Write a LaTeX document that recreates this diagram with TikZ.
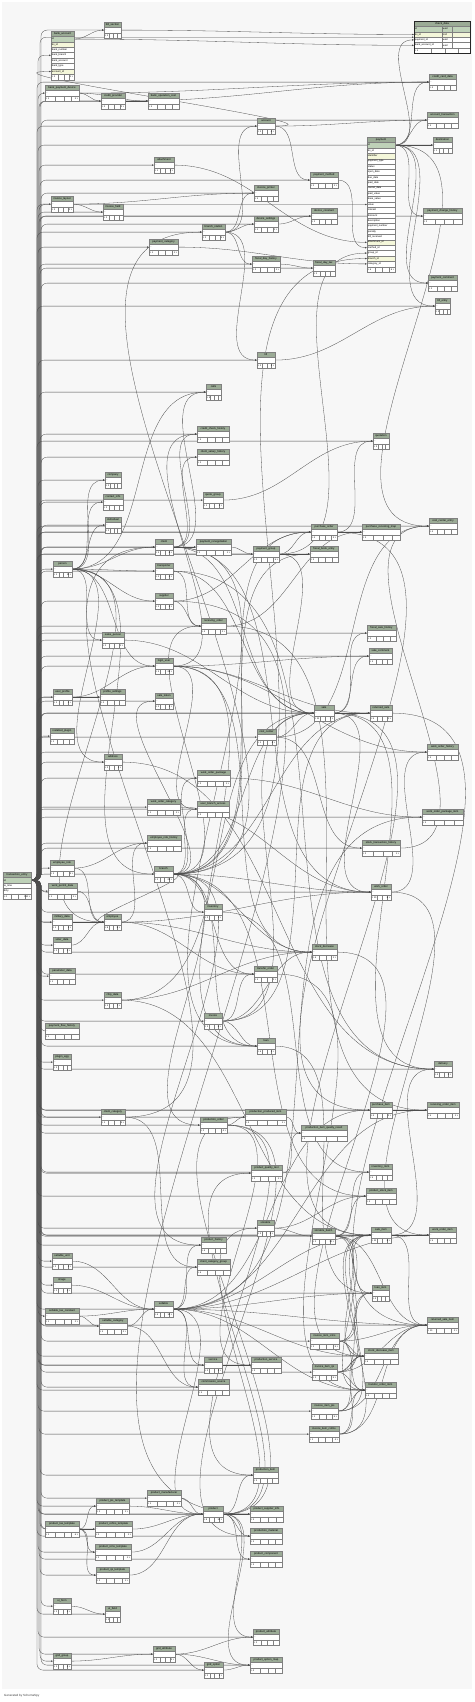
\documentclass[tikz,border=0pt]{standalone}
\usepackage{fontspec}
\newfontfamily\tf{Liberation Sans}
\usetikzlibrary{arrows.meta,calc}
\definecolor{hdr}{HTML}{9BAB96}
\definecolor{pk}{HTML}{BED1B8}
\definecolor{ix}{HTML}{F4F7DA}
\definecolor{panel}{HTML}{F7F7F7}
\pgfdeclarelayer{bg}\pgfdeclarelayer{edges}\pgfsetlayers{bg,edges,main}
\newcount\bcnt
\tikzset{
 tline/.style={draw=black!50,line width=0.2pt},
 ttl/.style={font={\tf\fontsize{2.7pt}{3.1pt}\selectfont},inner sep=0pt,text=black},
 rowtxt/.style={font={\tf\fontsize{2.5pt}{3pt}\selectfont},inner sep=0pt},
 ft/.style={font={\tf\fontsize{2.3pt}{3pt}\selectfont},inner sep=0pt},
 fk/.style={draw=black!70,line width=0.3pt,-{Latex[length=1.8pt,width=1.6pt]}},
 anchorbox/.style={anchor=north west,inner sep=0pt,outer sep=0pt},
}
\newcommand{\tebundle}[1]{%
 \global\advance\bcnt by 1
 \pgfmathsetmacro\bdx{6+mod(\the\bcnt,5)}%
 \begin{pgfonlayer}{edges}
 \draw[fk,rounded corners=6pt] (transaction_entry-e1) -- ++(\bdx,0) |- (#1.west);
 \end{pgfonlayer}}
\newcommand{\mktable}[6]{%
 \node[anchorbox,minimum width=#4pt,minimum height=16.2pt] (#1) at (#2,#3) {};
 \draw[tline,fill=hdr] (#2,#3) rectangle ++(#4,5.4);
 \node[ttl] (#1-t) at (#2+#4/2,#3+2.8) {\detokenize{#1}};
 \draw[tline,fill=white] (#2,#3+5.4) rectangle ++(#4,5.4);
 \node[rowtxt,anchor=west,text=black!70] (#1-d) at (#2+0.7,#3+8.0) {...};
 \draw[tline,fill=white] (#2,#3+10.8) rectangle ++(#4,5.4);
 \draw[tline] (#2+0.3*#4,#3+10.8) -- ++(0,5.4) (#2+0.55*#4,#3+10.8) -- ++(0,5.4) (#2+0.78*#4,#3+10.8) -- ++(0,5.4);
 \node[ft,anchor=west] (#1-l) at (#2+0.6,#3+13.5) {#5};
 \node[ft,anchor=east] (#1-r) at (#2+#4-0.6,#3+13.5) {#6};
 \tebundle{#1}}
\newcommand{\mkbig}[8]{%
 \node[anchorbox,minimum width=#4pt,minimum height={(#5+2)*5.4pt}] (#1) at (#2,#3) {};
 \draw[tline,fill=hdr] (#2,#3) rectangle ++(#4,5.4);
 \node[ttl] (#1-t) at (#2+#4/2,#3+2.8) {\detokenize{#1}};
 \foreach \rt/\rc [count=\i] in {#6} {
   \draw[tline,fill=\rc] (#2,#3+5.4*\i) rectangle ++(#4,5.4);
   \node[rowtxt,anchor=west] (#1-n\i) at (#2+0.7,#3+5.4*\i+2.7) {\rt};
   \coordinate (#1-w\i) at (#2,#3+5.4*\i+2.7);
   \coordinate (#1-e\i) at (#2+#4,#3+5.4*\i+2.7);
 }
 \pgfmathsetmacro\fy{#3+5.4*(#5+1)}
 \draw[tline,fill=white] (#2,\fy) rectangle ++(#4,5.4);
 \draw[tline] (#2+0.3*#4,\fy) -- ++(0,5.4) (#2+0.55*#4,\fy) -- ++(0,5.4) (#2+0.78*#4,\fy) -- ++(0,5.4);
 \node[ft,anchor=west] (#1-l) at (#2+0.6,\fy+2.7) {#7};
 \node[ft,anchor=east] (#1-r) at (#2+#4-0.6,\fy+2.7) {#8};}
\begin{document}
\begin{tikzpicture}[x=1pt,y=-1pt]
\useasboundingbox (0,0) rectangle (474,1702);
\begin{pgfonlayer}{bg}
\fill[white] (0,0) rectangle (474,1702);
\fill[panel] (2,2) rectangle (472,1689);
\end{pgfonlayer}
\node[anchor=west,font={\tf\fontsize{3pt}{3.5pt}\selectfont},text=black!75,inner sep=0pt] (credit) at (4,1696) {Generated by SchemaSpy};
% hub
\mkbig{transaction_entry}{3}{872}{28}{3}{id/pk,te\_time/white,dirty/white}{< 0}{130 >}
% big tables
\mkbig{bank_account}{51}{31}{23}{7}{id/pk,bs\_id/ix,bank\_number/white,bank\_branch/white,bank\_account/white,bank\_type/white,account\_id/ix}{< 2}{1 >}
\tebundle{bank_account}
\mkbig{payment}{367}{137}{28}{23}{id/pk,bs\_id/white,identifier/ix,payment\_type/white,status/white,open\_date/white,due\_date/white,paid\_date/white,cancel\_date/white,paid\_value/white,base\_value/white,value/white,interest/white,discount/white,description/white,payment\_number/white,penalty/white,bill\_received/white,attachment\_id/ix,method\_id/white,group\_id/white,branch\_id/ix,category\_id/white}{< 6}{8 >}
\tebundle{payment}
\mkbig{check_data}{414}{21}{56}{4}{id/pk,bs\_id/ix,payment\_id/white,bank\_account\_id/white}{< 3}{}
\tebundle{check_data}
\draw[tline] (442,26.4) -- (442,48.6) (452,26.4) -- (452,48.6);
\node[rowtxt,anchor=west] (cd-t1) at (442.7,29.1) {uuid};
\node[rowtxt,anchor=west] (cd-t2) at (442.7,34.5) {int4};
\node[rowtxt,anchor=west] (cd-t3) at (442.7,39.9) {uuid};
\node[rowtxt,anchor=west] (cd-t4) at (442.7,45.3) {uuid};
\draw[line width=0.9pt,black!85] (414,21) rectangle (470,53.4);
% tables
\mktable{bill_section}{104}{22}{17}{< 1}{}
\mktable{credit_card_data}{429}{74}{27}{< 4}{}
\mktable{bank_payment_device}{45}{85}{34}{< 1}{3 >}
\mktable{credit_provider}{101}{93}{24}{< 2}{2 >}
\mktable{bank_operation_cost}{148}{93}{31}{< 3}{}
\mktable{account_transaction}{427}{112}{31}{< 3}{}
\mktable{account}{257}{118}{18}{< 2}{4 >}
\mktable{destination}{433}{137}{19}{< 1}{}
\mktable{attachment}{154}{157}{20}{< 1}{1 >}
\mktable{payment_method}{310}{172}{28}{< 2}{1 >}
\mktable{invoice_printer}{254}{185}{24}{< 3}{}
\mktable{invoice_layout}{51}{196}{22}{< 1}{2 >}
\mktable{invoice_field}{103}{204}{20}{< 2}{}
\mktable{device_constant}{311}{208}{26}{< 2}{}
\mktable{payment_change_history}{423}{208}{39}{< 2}{}
\mktable{device_settings}{254}{216}{24}{< 2}{1 >}
\mktable{branch_station}{202}{224}{23}{< 2}{5 >}
\mktable{payment_category}{149}{239}{29}{< 1}{1 >}
\mktable{fiscal_day_history}{252}{256}{28}{< 2}{1 >}
\mktable{fiscal_day_tax}{313}{260}{22}{< 2}{}
\mktable{payment_comment}{428}{275}{29}{< 2}{}
\mktable{till_entry}{435}{298}{15}{< 3}{}
\mktable{till}{257}{352}{18}{< 2}{2 >}
\mktable{calls}{206}{384}{15}{< 3}{}
\mktable{credit_check_history}{197}{426}{32}{< 3}{}
\mktable{client_salary_history}{197}{449}{32}{< 2}{}
\mktable{quotation}{373}{433}{16}{< 3}{}
\mktable{company}{105}{472}{16}{< 2}{}
\mktable{quote_group}{203}{492}{20}{< 1}{1 >}
\mktable{contact_info}{103}{494}{20}{< 2}{}
\mktable{individual}{105}{517}{16}{< 2}{}
\mktable{cost_center_entry}{429}{518}{28}{< 4}{}
\mktable{purchase_order}{311}{524}{26}{< 4}{3 >}
\mktable{purchase_receiving_map}{362}{524}{38}{< 3}{}
\mktable{client}{155}{539}{18}{< 3}{8 >}
\mktable{payment_renegotiation}{196}{539}{35}{< 2}{1 >}
\mktable{payment_group}{253}{546}{26}{< 2}{5 >}
\mktable{fiscal_book_entry}{310}{546}{28}{< 3}{}
\mktable{person}{53}{561}{19}{< 1}{11 >}
\mktable{transporter}{155}{563}{18}{< 2}{3 >}
\mktable{supplier}{155}{593}{18}{< 2}{3 >}
\mktable{receiving_order}{201}{618}{25}{< 4}{2 >}
\mktable{fiscal_sale_history}{367}{625}{29}{< 2}{}
\mktable{sales_person}{102}{632}{22}{< 2}{1 >}
\mktable{sale_comment}{369}{648}{23}{< 3}{}
\mktable{login_user}{155}{658}{18}{< 3}{28 >}
\mktable{user_profile}{53}{689}{19}{< 1}{2 >}
\mktable{profile_settings}{100}{689}{25}{< 2}{}
\mktable{sale_token}{155}{693}{18}{< 2}{1 >}
\mktable{sale}{314}{705}{20}{< 11}{7 >}
\mktable{returned_sale}{370}{705}{22}{< 5}{1 >}
\mktable{installed_plugin}{50}{728}{24}{< 1}{}
\mktable{cost_center}{257}{729}{19}{< 1}{4 >}
\mktable{work_order_history}{427}{744}{31}{< 3}{}
\mktable{address}{104}{754}{18}{< 2}{1 >}
\mktable{work_order_package}{197}{770}{33}{< 2}{1 >}
\mktable{work_order_category}{147}{799}{33}{< 1}{1 >}
\mktable{user_branch_access}{197}{801}{32}{< 3}{}
\mktable{work_order_package_item}{422}{809}{41}{< 3}{}
\mktable{employee_role_history}{147}{835}{34}{< 3}{}
\mktable{stock_transaction_history}{362}{840}{38}{< 2}{1 >}
\mktable{employee_role}{50}{860}{24}{< 1}{3 >}
\mktable{branch}{154}{866}{19}{< 2}{29 >}
\mktable{work_permit_data}{48}{883}{29}{< 1}{1 >}
\mktable{work_order}{371}{884}{20}{< 10}{8 >}
\mktable{inventory}{204}{904}{18}{< 2}{1 >}
\mktable{military_data}{52}{914}{20}{< 1}{1 >}
\mktable{employee}{104}{914}{17}{< 8}{5 >}
\mktable{voter_data}{53}{937}{18}{< 1}{1 >}
\mktable{stock_decrease}{312}{944}{25}{< 6}{1 >}
\mktable{transfer_order}{254}{966}{23}{< 3}{1 >}
\mktable{parameter_data}{49}{968}{26}{< 1}{}
\mktable{cfop_data}{104}{992}{17}{< 1}{7 >}
\mktable{invoice}{204}{1013}{18}{< 1}{5 >}
\mktable{payment_flow_history}{45}{1023}{34}{< 1}{}
\mktable{loan}{257}{1038}{18}{< 6}{1 >}
\mktable{plugin_egg}{53}{1054}{18}{< 1}{}
\mktable{delivery}{434}{1061}{18}{< 4}{2 >}
\mktable{purchase_item}{370}{1102}{22}{< 4}{2 >}
\mktable{receiving_order_item}{427}{1102}{32}{< 5}{1 >}
\mktable{client_category}{101}{1109}{24}{< 1}{4 >}
\mktable{production_produced_item}{245}{1109}{41}{< 4}{1 >}
\mktable{production_order}{200}{1117}{27}{< 2}{4 >}
\mktable{production_item_quality_result}{301}{1125}{46}{< 3}{}
\mktable{product_quality_test}{251}{1165}{31}{< 2}{1 >}
\mktable{inventory_item}{369}{1164}{23}{< 5}{}
\mktable{product_stock_item}{366}{1188}{30}{< 4}{}
\mktable{storable}{257}{1220}{17}{< 2}{3 >}
\mktable{storable_batch}{312}{1228}{23}{< 2}{10 >}
\mktable{sale_item}{371}{1227}{20}{< 11}{8 >}
\mktable{work_order_item}{429}{1227}{27}{< 5}{}
\mktable{product_history}{201}{1237}{25}{< 6}{}
\mktable{sellable_unit}{52}{1253}{20}{< 1}{1 >}
\mktable{client_category_group}{197}{1259}{33}{< 6}{}
\mktable{image}{53}{1277}{18}{< 1}{1 >}
\mktable{loan_item}{372}{1285}{17}{< 4}{}
\mktable{sellable}{154}{1301}{19}{< 6}{14 >}
\mktable{sellable_tax_constant}{45}{1308}{34}{< 1}{2 >}
\mktable{returned_sale_item}{427}{1317}{31}{< 10}{1 >}
\mktable{sellable_category}{99}{1318}{28}{< 3}{2 >}
\mktable{invoice_item_icms}{310}{1333}{29}{< 1}{5 >}
\mktable{stock_decrease_item}{364}{1348}{34}{< 6}{}
\mktable{service}{204}{1357}{18}{< 2}{1 >}
\mktable{production_service}{251}{1357}{30}{< 3}{}
\mktable{invoice_item_ipi}{312}{1364}{25}{< 1}{5 >}
\mktable{commission_source}{198}{1379}{31}{< 3}{}
\mktable{transfer_order_item}{365}{1382}{31}{< 4}{}
\mktable{invoice_item_pis}{311}{1403}{27}{< 1}{5 >}
\mktable{invoice_item_cofins}{309}{1426}{30}{< 1}{4 >}
\mktable{production_item}{253}{1467}{25}{< 3}{}
\mktable{product_manufacturer}{147}{1490}{34}{< 1}{1 >}
\mktable{product_pis_template}{96}{1498}{33}{< 2}{1 >}
\mktable{product}{203}{1506}{20}{< 8}{12 >}
\mktable{product_supplier_info}{250}{1506}{33}{< 3}{}
\mktable{product_tax_template}{45}{1521}{34}{< 1}{6 >}
\mktable{product_cofins_template}{95}{1521}{37}{< 2}{1 >}
\mktable{production_material}{250}{1528}{32}{< 3}{}
\mktable{product_icms_template}{95}{1544}{36}{< 2}{1 >}
\mktable{product_component}{250}{1551}{32}{< 3}{}
\mktable{product_ipi_template}{96}{1567}{33}{< 2}{1 >}
\mktable{ui_form}{53}{1598}{18}{< 1}{1 >}
\mktable{ui_field}{105}{1606}{15}{< 2}{}
\mktable{product_attribute}{253}{1629}{26}{< 2}{}
\mktable{grid_attribute}{153}{1646}{22}{< 2}{3 >}
\mktable{grid_group}{53}{1653}{18}{< 1}{1 >}
\mktable{product_option_map}{250}{1657}{32}{< 4}{}
\mktable{grid_option}{204}{1662}{19}{< 2}{1 >}
% foreign keys
\begin{pgfonlayer}{edges}
\draw[fk] (attachment.east) to[out=0,in=180] (payment-w19);
\draw[fk] (payment_method.east) to[out=0,in=180] (payment-w20);
\draw[fk] (payment_group.east) to[out=0,in=180] (payment-w21);
\draw[fk] (branch.east) to[out=0,in=180] (payment-w22);
\draw[fk] (payment_category.east) to[out=0,in=180] (payment-w23);
\draw[fk] (payment-e1) to[out=0,in=180] (check_data-w3);
\draw[fk] (bank_account-e1) to[out=0,in=180] (check_data-w4);
\draw[fk] (bill_section.east) to[out=0,in=180] (check_data-w2);
\draw[fk] (bank_account-e1) to[out=0,in=180] (bill_section.west);
\draw[fk] (account.east) to[out=0,in=180] (bank_account-w7);
\foreach \c in {destination,credit_card_data,account_transaction,payment_change_history,payment_comment,till_entry,cost_center_entry}
  \draw[fk] (payment-e1) to[out=0,in=180] (\c.west);
\foreach \a/\b in {
 bank_payment_device/credit_provider, bank_payment_device/bank_operation_cost, credit_provider/bank_operation_cost,
 bank_payment_device/credit_card_data, credit_provider/credit_card_data, account/account_transaction,
 account/payment_method, branch_station/account, invoice_layout/invoice_field, invoice_layout/invoice_printer,
 branch_station/invoice_printer, branch_station/device_settings, device_settings/device_constant,
 branch_station/fiscal_day_history, fiscal_day_history/fiscal_day_tax, branch_station/till, till/till_entry,
 branch/branch_station, person/calls, client/calls, person/company, person/contact_info, person/individual,
 person/client, person/transporter, person/supplier, person/sales_person, person/login_user, person/branch,
 person/employee, person/address, client/credit_check_history, client/client_salary_history,
 login_user/credit_check_history, client/payment_renegotiation, payment_renegotiation/payment_group,
 quote_group/quotation, purchase_order/quotation, purchase_order/purchase_receiving_map,
 receiving_order/purchase_receiving_map, payment_group/purchase_order, supplier/purchase_order,
 branch/purchase_order, cost_center/cost_center_entry, stock_transaction_history/cost_center_entry,
 payment_group/fiscal_book_entry, branch/fiscal_book_entry, supplier/receiving_order, transporter/receiving_order,
 branch/receiving_order, sale/fiscal_sale_history, sale/sale_comment, login_user/sale_comment,
 user_profile/profile_settings, user_profile/login_user, branch/sale_token, client/sale, branch/sale,
 sales_person/sale, cost_center/sale, payment_group/sale, transporter/sale, cfop_data/sale, invoice/sale,
 sale/returned_sale, branch/returned_sale, login_user/returned_sale, invoice/returned_sale,
 cost_center/stock_transaction_history, work_order/work_order_history, login_user/work_order_history,
 work_order_package/work_order_package_item, sellable/work_order_package_item, branch/work_order_package,
 login_user/user_branch_access, branch/user_branch_access, employee_role/employee_role_history,
 employee/employee_role_history, employee_role/employee, work_permit_data/employee, military_data/employee,
 voter_data/employee, branch/employee, work_order_category/work_order, client/work_order, branch/work_order,
 sale/work_order, employee/work_order, branch/inventory, branch/stock_decrease, employee/stock_decrease,
 cfop_data/stock_decrease, login_user/stock_decrease, branch/transfer_order, employee/transfer_order,
 branch/loan, client/loan, login_user/loan, invoice/loan, invoice/stock_decrease, invoice/transfer_order,
 sale/delivery, transporter/delivery, address/delivery, purchase_order/purchase_item, sellable/purchase_item,
 purchase_item/receiving_order_item, receiving_order/receiving_order_item, sellable/receiving_order_item,
 client_category/client, client_category/client_category_group, sellable/client_category_group,
 production_order/production_produced_item, product/production_produced_item, branch/production_order,
 production_produced_item/production_item_quality_result, product_quality_test/production_item_quality_result,
 product/product_quality_test, inventory/inventory_item, storable_batch/inventory_item,
 storable/product_stock_item, storable_batch/product_stock_item, branch/product_stock_item,
 product/storable, storable/storable_batch, sale/sale_item, sellable/sale_item, storable_batch/sale_item,
 cfop_data/sale_item, sale_item/delivery, work_order/work_order_item, sellable/work_order_item,
 storable_batch/work_order_item, sale_item/work_order_item, sellable/product_history, branch/product_history,
 sellable_unit/sellable, image/sellable, sellable_category/sellable, sellable_tax_constant/sellable,
 sellable_tax_constant/sellable_category, sellable_category/commission_source, sellable/commission_source,
 sellable/service, service/production_service, production_order/production_service, sellable/product,
 sellable/loan_item, loan/loan_item, storable_batch/loan_item, returned_sale/returned_sale_item,
 sale_item/returned_sale_item, sellable/returned_sale_item, storable_batch/returned_sale_item,
 invoice_item_icms/returned_sale_item, invoice_item_ipi/returned_sale_item, invoice_item_pis/returned_sale_item,
 invoice_item_cofins/returned_sale_item, invoice_item_icms/sale_item, invoice_item_ipi/sale_item,
 invoice_item_pis/sale_item, invoice_item_cofins/sale_item, invoice_item_icms/stock_decrease_item,
 invoice_item_ipi/stock_decrease_item, invoice_item_pis/stock_decrease_item, invoice_item_cofins/stock_decrease_item,
 invoice_item_icms/transfer_order_item, invoice_item_ipi/transfer_order_item, invoice_item_pis/transfer_order_item,
 invoice_item_cofins/transfer_order_item, invoice_item_icms/loan_item, invoice_item_ipi/loan_item,
 stock_decrease/stock_decrease_item, sellable/stock_decrease_item, storable_batch/stock_decrease_item,
 transfer_order/transfer_order_item, sellable/transfer_order_item, storable_batch/transfer_order_item,
 production_order/production_item, product/production_item, production_order/production_material,
 product/production_material, product/product_supplier_info, supplier/product_supplier_info,
 product/product_component, product_manufacturer/product, product_pis_template/product,
 product_cofins_template/product, product_icms_template/product, product_ipi_template/product,
 product_tax_template/product_pis_template, product_tax_template/product_cofins_template,
 product_tax_template/product_icms_template, product_tax_template/product_ipi_template,
 ui_form/ui_field, product/product_attribute, grid_attribute/product_attribute, grid_group/grid_attribute,
 grid_attribute/grid_option, grid_attribute/product_option_map, grid_option/product_option_map,
 product/product_option_map}
  \draw[fk] (\a.east) to[out=0,in=180] (\b.west);
\end{pgfonlayer}
\end{tikzpicture}
\end{document}
